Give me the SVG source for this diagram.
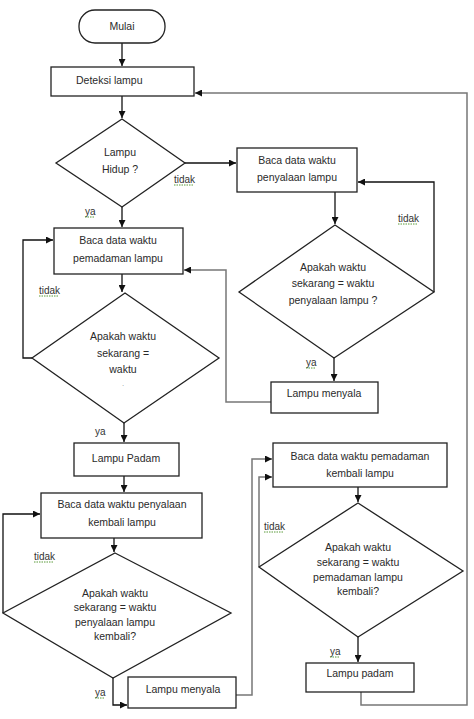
<svg xmlns="http://www.w3.org/2000/svg" width="474" height="719" viewBox="0 0 474 719">
<defs>
<marker id="ah" viewBox="0 0 10 10" refX="10" refY="5" markerWidth="7" markerHeight="7" markerUnits="userSpaceOnUse" orient="auto"><path d="M0,0 L10,5 L0,10 z" fill="#111"/></marker>
<style>
.n{fill:#fff;stroke:#222;stroke-width:1.3}
.t{font-family:"Liberation Sans",Arial,sans-serif;font-size:10.5px;fill:#2a2a2a;text-anchor:middle}
.l{font-family:"Liberation Sans",Arial,sans-serif;font-size:10px;fill:#333}
.sq{stroke:#5a9a3a;stroke-width:1;stroke-dasharray:1.5 1;fill:none}
.c{fill:none;stroke:#111;stroke-width:1.3}
.g{fill:none;stroke:#777;stroke-width:1.5}
</style>
</defs>
<rect width="474" height="719" fill="#fff"/>
<g id="connectors">
<path class="c" d="M122,43 V66" marker-end="url(#ah)"/>
<path class="c" d="M122,96 V118" marker-end="url(#ah)"/>
<path class="c" d="M185,163 H236" marker-end="url(#ah)"/>
<path class="c" d="M122,207 V227" marker-end="url(#ah)"/>
<path class="c" d="M335,192 V224" marker-end="url(#ah)"/>
<path class="c" d="M434,292 V182 H358" marker-end="url(#ah)"/>
<path class="c" d="M32,358 H23 V240 H53" marker-end="url(#ah)"/>
<path class="c" d="M122,274 V292" marker-end="url(#ah)"/>
<path class="c" d="M334,358 V381" marker-end="url(#ah)"/>
<path class="g" d="M271,402 H226 V270 H184" marker-end="url(#ah)"/>
<path class="c" d="M124,423 V442" marker-end="url(#ah)"/>
<path class="c" d="M124,476 V492" marker-end="url(#ah)"/>
<path class="c" d="M3,613 V514 H40" marker-end="url(#ah)"/>
<path class="c" d="M114,538 V552" marker-end="url(#ah)"/>
<path class="c" d="M113,678 V705 H127" marker-end="url(#ah)"/>
<path class="g" d="M236,695 H252 V459 H272" marker-end="url(#ah)"/>
<path class="g" d="M259,567 V477 H272" marker-end="url(#ah)"/>
<path class="c" d="M358,487 V502" marker-end="url(#ah)"/>
<path class="c" d="M358,637 V662" marker-end="url(#ah)"/>
<path class="g" d="M361,692 V705 H467 V93 H195" marker-end="url(#ah)"/>
</g>
<g id="labels">
<text class="l" x="174" y="183">tidak</text><path class="sq" d="M174,185 H194"/>
<text class="l" x="398" y="222">tidak</text><path class="sq" d="M398,224 H418"/>
<text class="l" x="85" y="215">ya</text><path class="sq" d="M85,217 H95"/>
<text class="l" x="39" y="294">tidak</text><path class="sq" d="M39,296 H59"/>
<text class="l" x="306" y="366">ya</text><path class="sq" d="M306,368 H316"/>
<text class="l" x="95" y="435">ya</text>
<text class="l" x="34" y="560">tidak</text><path class="sq" d="M34,562 H54"/>
<text class="l" x="95" y="696">ya</text><path class="sq" d="M95,698 H105"/>
<text class="l" x="264" y="530">tidak</text><path class="sq" d="M264,532 H284"/>
<text class="l" x="330" y="655">ya</text><path class="sq" d="M330,657 H340"/>
</g>
<g id="mulai"><rect class="n" x="79" y="10" width="86" height="33" rx="16"/><text class="t" x="122" y="30">Mulai</text></g>
<g id="deteksi"><rect class="n" x="51" y="67" width="143" height="29"/><text class="t" x="76" y="84" style="text-anchor:start">Deteksi lampu</text></g>
<g id="d1"><polygon class="n" points="122,119 185,163 122,207 56,163"/><text class="t" x="120" y="156">Lampu</text><text class="t" x="120" y="173">Hidup ?</text></g>
<g id="baca1"><rect class="n" x="237" y="148" width="120" height="44"/><text class="t" x="297" y="164">Baca data waktu</text><text class="t" x="297" y="181">penyalaan lampu</text></g>
<g id="d2"><polygon class="n" points="335,225 434,292 334,358 239,292"/><text class="t" x="333" y="271">Apakah waktu</text><text class="t" x="333" y="287">sekarang = waktu</text><text class="t" x="333" y="304">penyalaan lampu ?</text></g>
<g id="menyala1"><rect class="n" x="271" y="382" width="107" height="31"/><text class="t" x="324" y="397">Lampu menyala</text></g>
<g id="baca2"><rect class="n" x="54" y="228" width="129" height="46"/><text class="t" x="118" y="244">Baca data waktu</text><text class="t" x="118" y="262">pemadaman lampu</text></g>
<g id="d3"><polygon class="n" points="125,293 219,358 124,423 32,358"/><text class="t" x="123" y="340">Apakah waktu</text><text class="t" x="123" y="357">sekarang =</text><text class="t" x="123" y="373">waktu</text><text class="t" x="123" y="386" style="font-size:6px">.</text></g>
<g id="padam1"><rect class="n" x="74" y="443" width="105" height="33"/><text class="t" x="126" y="462">Lampu Padam</text></g>
<g id="baca3"><rect class="n" x="41" y="493" width="161" height="45"/><text class="t" x="122" y="508">Baca data waktu penyalaan</text><text class="t" x="122" y="526">kembali lampu</text></g>
<g id="d4"><polygon class="n" points="115,553 231,613 113,678 3,613"/><text class="t" x="115" y="597">Apakah waktu</text><text class="t" x="115" y="611">sekarang = waktu</text><text class="t" x="115" y="626">penyalaan lampu</text><text class="t" x="115" y="640">kembali?</text></g>
<g id="menyala2"><rect class="n" x="128" y="677" width="108" height="31"/><text class="t" x="183" y="693">Lampu menyala</text></g>
<g id="baca4"><rect class="n" x="273" y="443" width="174" height="44"/><text class="t" x="360" y="460">Baca data waktu pemadaman</text><text class="t" x="360" y="477">kembali lampu</text></g>
<g id="d5"><polygon class="n" points="358,503 463,571 358,637 259,567"/><text class="t" x="358" y="551">Apakah waktu</text><text class="t" x="358" y="566">sekarang = waktu</text><text class="t" x="358" y="581">pemadaman lampu</text><text class="t" x="358" y="595">kembali?</text></g>
<g id="padam2"><rect class="n" x="306" y="663" width="108" height="29"/><text class="t" x="360" y="677">Lampu padam</text></g>
</svg>
